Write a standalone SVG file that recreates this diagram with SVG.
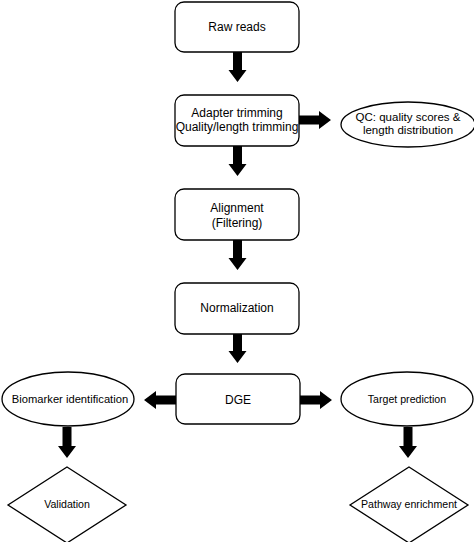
<svg xmlns="http://www.w3.org/2000/svg" width="474" height="542" viewBox="0 0 474 542">
<style>
.box{fill:#fff;stroke:#000;stroke-width:1.3}
.t{font-family:"Liberation Sans",Arial,sans-serif;font-size:12px;fill:#000;text-anchor:middle}
.s{font-size:10.6px}
.arr{fill:#000}
</style>
<rect width="474" height="542" fill="#fff"/>
<g id="connectors">
<path class="arr" d="M233,52 H242 V70 H246.5 L237.5,82 L228.5,70 H233 Z"/>
<path class="arr" d="M233,146 H242 V164 H246.5 L237.5,176 L228.5,164 H233 Z"/>
<path class="arr" d="M233,240 H242 V258 H246.5 L237.5,270 L228.5,258 H233 Z"/>
<path class="arr" d="M233,334 H242 V351 H246.5 L237.5,363 L228.5,351 H233 Z"/>
<path class="arr" d="M299,115.5 H319 V111 L331,120 L319,129 V124.5 H299 Z"/>
<path class="arr" d="M176,395.5 H156 V391 L144,400 L156,409 V404.5 H176 Z"/>
<path class="arr" d="M300,395.5 H320 V391 L332,400 L320,409 V404.5 H300 Z"/>
<path class="arr" d="M62.5,427 H71.5 V446 H76 L67,458 L58,446 H62.5 Z"/>
<path class="arr" d="M403.5,427 H412.5 V446 H417 L408,458 L399,446 H403.5 Z"/>
</g>
<g id="raw-reads"><rect class="box" x="175" y="2" width="124" height="50" rx="9"/><text class="t" x="237" y="31">Raw reads</text></g>
<g id="trimming"><rect class="box" x="175" y="95" width="124" height="51" rx="9"/><text class="t" x="237" y="117">Adapter trimming</text><text class="t" x="237" y="131">Quality/length trimming</text></g>
<g id="qc"><ellipse class="box" cx="408" cy="124.5" rx="67" ry="22.5"/><text class="t" x="408" y="121" style="font-size:11.5px">QC: quality scores &amp;</text><text class="t" x="408" y="134" style="font-size:11.5px">length distribution</text></g>
<g id="alignment"><rect class="box" x="175" y="189" width="124" height="51" rx="9"/><text class="t" x="237" y="212">Alignment</text><text class="t" x="237" y="227">(Filtering)</text></g>
<g id="normalization"><rect class="box" x="175" y="283" width="124" height="51" rx="9"/><text class="t" x="237" y="312">Normalization</text></g>
<g id="dge"><rect class="box" x="176" y="374" width="124" height="50" rx="9"/><text class="t" x="238" y="404">DGE</text></g>
<g id="biomarker"><ellipse class="box" cx="68" cy="399" rx="66" ry="27"/><text class="t" x="70" y="403" style="font-size:11.2px">Biomarker identification</text></g>
<g id="target"><ellipse class="box" cx="407" cy="399" rx="66" ry="27"/><text class="t s" x="407" y="403">Target prediction</text></g>
<g id="validation"><path class="box" d="M67,467 L126,505 L67,543 L8,505 Z"/><text class="t s" x="67" y="508">Validation</text></g>
<g id="pathway"><path class="box" d="M409,467 L468,505 L409,543 L350,505 Z"/><text class="t s" x="409" y="508">Pathway enrichment</text></g>
</svg>
